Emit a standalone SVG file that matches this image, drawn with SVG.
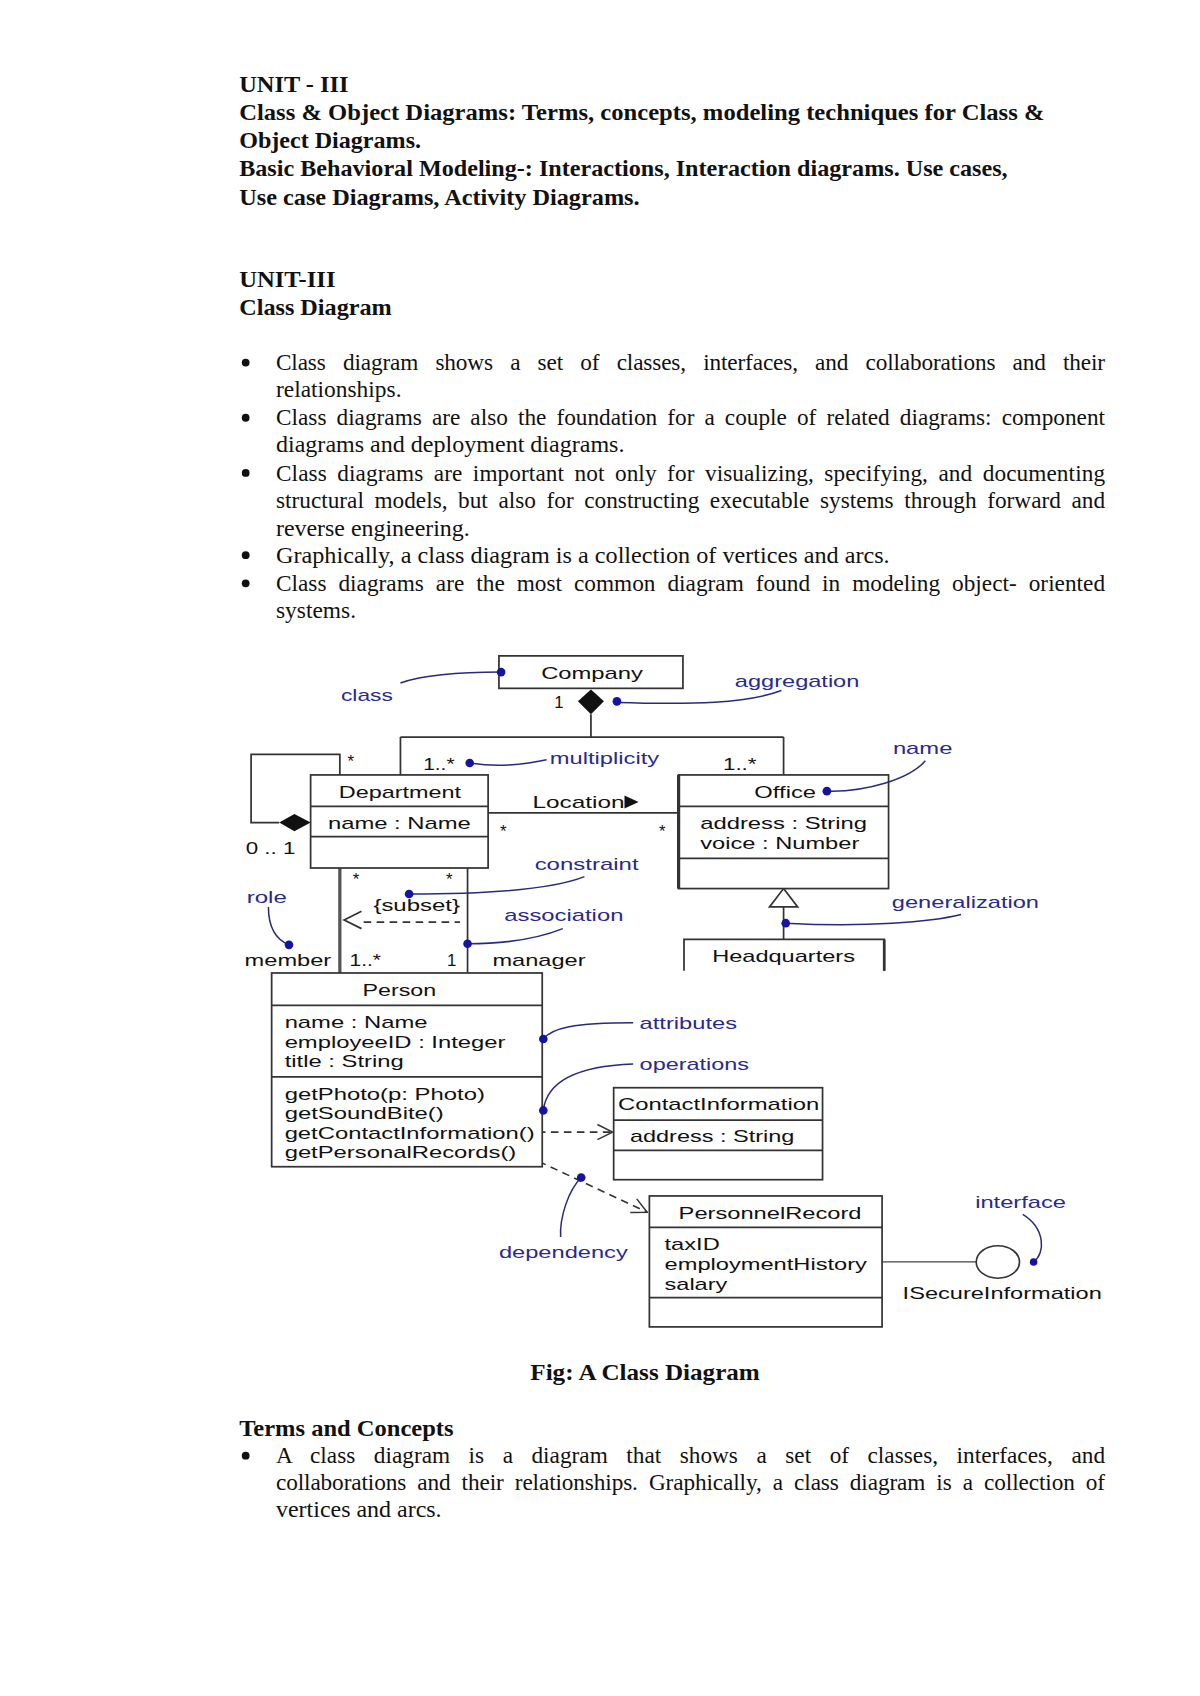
<svg xmlns="http://www.w3.org/2000/svg" width="1200" height="1696" viewBox="0 0 1200 1696">
<style>
.b{font-family:"Liberation Serif","Times New Roman",serif;font-size:21.5px;fill:#111}
.bb{font-family:"Liberation Serif","Times New Roman",serif;font-size:21.5px;font-weight:bold;fill:#111}
.d{font-family:"Liberation Sans",Arial,sans-serif;font-size:15.5px;fill:#111}
.lb{font-family:"Liberation Sans",Arial,sans-serif;font-size:15.5px;fill:#2a2a8c}
.box{fill:#fff;stroke:#333;stroke-width:1.6}
.ln{fill:none;stroke:#333;stroke-width:1.6}
.dash{fill:none;stroke:#333;stroke-width:1.5;stroke-dasharray:7,5}
.lead{fill:none;stroke:#2a2a7a;stroke-width:1.4}
.dot{fill:#1414a0}
.bul{fill:#111}
</style>
<defs>
<marker id="open" viewBox="0 0 16 16" refX="15" refY="8" markerWidth="16" markerHeight="16" markerUnits="userSpaceOnUse" orient="auto">
<path d="M1,1 L15,8 L1,15" fill="none" stroke="#333" stroke-width="1.4"/>
</marker>
</defs>
<rect width="1200" height="1696" fill="#fff"/>
<g transform="scale(1.0823)">
<g id="text">
<text class="bb" x="221" y="85" textLength="101" lengthAdjust="spacingAndGlyphs">UNIT - III</text>
<text class="bb" x="221" y="111" textLength="744" lengthAdjust="spacingAndGlyphs">Class &amp; Object Diagrams: Terms, concepts, modeling techniques for Class &amp;</text>
<text class="bb" x="221" y="137" textLength="168" lengthAdjust="spacingAndGlyphs">Object Diagrams.</text>
<text class="bb" x="221" y="163" textLength="710" lengthAdjust="spacingAndGlyphs">Basic Behavioral Modeling-: Interactions, Interaction diagrams. Use cases,</text>
<text class="bb" x="221" y="189" textLength="370" lengthAdjust="spacingAndGlyphs">Use case Diagrams, Activity Diagrams.</text>
<text class="bb" x="221" y="265" textLength="89" lengthAdjust="spacingAndGlyphs">UNIT-III</text>
<text class="bb" x="221" y="291" textLength="141" lengthAdjust="spacingAndGlyphs">Class Diagram</text>
<circle class="bul" cx="227" cy="335" r="3.6"/>
<text class="b" x="255" y="342" word-spacing="10.7" textLength="766" lengthAdjust="spacing">Class diagram shows a set of classes, interfaces, and collaborations and their</text>
<text class="b" x="255" y="367" textLength="116" lengthAdjust="spacingAndGlyphs">relationships.</text>
<circle class="bul" cx="227" cy="386" r="3.6"/>
<text class="b" x="255" y="393" word-spacing="3.9" textLength="766" lengthAdjust="spacing">Class diagrams are also the foundation for a couple of related diagrams: component</text>
<text class="b" x="255" y="418" textLength="322" lengthAdjust="spacingAndGlyphs">diagrams and deployment diagrams.</text>
<circle class="bul" cx="227" cy="437" r="3.6"/>
<text class="b" x="255" y="444" word-spacing="4.2" textLength="766" lengthAdjust="spacing">Class diagrams are important not only for visualizing, specifying, and documenting</text>
<text class="b" x="255" y="469" word-spacing="4.4" textLength="766" lengthAdjust="spacing">structural models, but also for constructing executable systems through forward and</text>
<text class="b" x="255" y="495" textLength="179" lengthAdjust="spacingAndGlyphs">reverse engineering.</text>
<circle class="bul" cx="227" cy="513" r="3.6"/>
<text class="b" x="255" y="520" textLength="567" lengthAdjust="spacingAndGlyphs">Graphically, a class diagram is a collection of vertices and arcs.</text>
<circle class="bul" cx="227" cy="539" r="3.6"/>
<text class="b" x="255" y="546" word-spacing="5.7" textLength="766" lengthAdjust="spacing">Class diagrams are the most common diagram found in modeling object- oriented</text>
<text class="b" x="255" y="571" textLength="74" lengthAdjust="spacingAndGlyphs">systems.</text>
<text class="bb" x="490" y="1275" textLength="212" lengthAdjust="spacingAndGlyphs">Fig: A Class Diagram</text>
<text class="bb" x="221" y="1327" textLength="198" lengthAdjust="spacingAndGlyphs">Terms and Concepts</text>
<circle class="bul" cx="227" cy="1345" r="3.6"/>
<text class="b" x="255" y="1352" word-spacing="11.7" textLength="766" lengthAdjust="spacing">A class diagram is a diagram that shows a set of classes, interfaces, and</text>
<text class="b" x="255" y="1377" word-spacing="5" textLength="766" lengthAdjust="spacing">collaborations and their relationships. Graphically, a class diagram is a collection of</text>
<text class="b" x="255" y="1402" textLength="153" lengthAdjust="spacingAndGlyphs">vertices and arcs.</text>
</g>

<g id="connectors">
<path class="ln" d="M546,660 V681 M370,681 H724 M370,681 V716 M724,681 V716"/>
<path d="M546,637 L558,648 L546,660 L534,648 Z" fill="#111"/>
<path class="ln" d="M314,716 V697 H232 V760 H258"/>
<path d="M258,760 L272,752 L287,760 L272,768 Z" fill="#111"/>
<path class="ln" d="M451,751 H627"/>
<path d="M577,735 L590,741 L577,747 Z" fill="#111"/>
<path d="M314,802 V899" fill="none" stroke="#555" stroke-width="3"/>
<path class="ln" d="M432,802 V899"/>
<path class="dash" d="M336,852 H425"/>
<path class="ln" d="M334,842 L318,850 L334,858"/>
<path class="ln" d="M724,838 V868"/>
<path d="M724,821 L737,838 L711,838 Z" fill="#fff" stroke="#333" stroke-width="1.6"/>
<path class="dash" d="M497,1046 H566" marker-end="url(#open)"/>
<path class="dash" d="M487,1068 L598,1120" marker-end="url(#open)"/>
<path d="M815,1166 H902" fill="none" stroke="#444" stroke-width="1.2"/>
<ellipse cx="922" cy="1166" rx="20" ry="15" fill="#fff" stroke="#333" stroke-width="1.5"/>
</g>

<g id="Company">
<rect class="box" x="461" y="606" width="170" height="30"/>
<text class="d" x="500" y="627" textLength="94" lengthAdjust="spacingAndGlyphs">Company</text>
<text class="d" x="512" y="654">1</text>
</g>

<g id="Department">
<rect class="box" x="287" y="716" width="164" height="86"/>
<path class="ln" d="M287,745 H451 M287,773 H451"/>
<text class="d" x="313" y="737" textLength="113" lengthAdjust="spacingAndGlyphs">Department</text>
<text class="d" x="303" y="766" textLength="132" lengthAdjust="spacingAndGlyphs">name : Name</text>
</g>

<g id="Office">
<rect class="box" x="627" y="716" width="194" height="105"/>
<path d="M627,716 V821" stroke="#333" stroke-width="3"/>
<path class="ln" d="M627,745 H821 M627,793 H821"/>
<text class="d" x="697" y="737" textLength="57" lengthAdjust="spacingAndGlyphs">Office</text>
<text class="d" x="647" y="766" textLength="154" lengthAdjust="spacingAndGlyphs">address : String</text>
<text class="d" x="647" y="784" textLength="147" lengthAdjust="spacingAndGlyphs">voice : Number</text>
</g>

<g id="Headquarters">
<path class="ln" d="M632,897 V868 H817 V897"/>
<path d="M817,868 V897" stroke="#333" stroke-width="2.5"/>
<text class="d" x="658" y="889" textLength="132" lengthAdjust="spacingAndGlyphs">Headquarters</text>
</g>

<g id="Person">
<rect class="box" x="251" y="899" width="250" height="179"/>
<path class="ln" d="M251,929 H501 M251,995 H501"/>
<text class="d" x="335" y="920" textLength="68" lengthAdjust="spacingAndGlyphs">Person</text>
<text class="d" x="263" y="950" textLength="132" lengthAdjust="spacingAndGlyphs">name : Name</text>
<text class="d" x="263" y="968" textLength="204" lengthAdjust="spacingAndGlyphs">employeeID : Integer</text>
<text class="d" x="263" y="986" textLength="110" lengthAdjust="spacingAndGlyphs">title : String</text>
<text class="d" x="263" y="1016" textLength="185" lengthAdjust="spacingAndGlyphs">getPhoto(p: Photo)</text>
<text class="d" x="263" y="1034" textLength="147" lengthAdjust="spacingAndGlyphs">getSoundBite()</text>
<text class="d" x="263" y="1052" textLength="231" lengthAdjust="spacingAndGlyphs">getContactInformation()</text>
<text class="d" x="263" y="1070" textLength="214" lengthAdjust="spacingAndGlyphs">getPersonalRecords()</text>
</g>

<g id="ContactInformation">
<rect class="box" x="567" y="1005" width="193" height="85"/>
<path class="ln" d="M567,1035 H760 M567,1063 H760"/>
<text class="d" x="571" y="1026" textLength="186" lengthAdjust="spacingAndGlyphs">ContactInformation</text>
<text class="d" x="582" y="1055" textLength="152" lengthAdjust="spacingAndGlyphs">address : String</text>
</g>

<g id="PersonnelRecord">
<rect class="box" x="600" y="1105" width="215" height="121"/>
<path class="ln" d="M600,1134 H815 M600,1199 H815"/>
<text class="d" x="627" y="1126" textLength="169" lengthAdjust="spacingAndGlyphs">PersonnelRecord</text>
<text class="d" x="614" y="1155" textLength="51" lengthAdjust="spacingAndGlyphs">taxID</text>
<text class="d" x="614" y="1173" textLength="187" lengthAdjust="spacingAndGlyphs">employmentHistory</text>
<text class="d" x="614" y="1192" textLength="58" lengthAdjust="spacingAndGlyphs">salary</text>
</g>

<g id="ISecureInformation">
<text class="d" x="834" y="1200" textLength="184" lengthAdjust="spacingAndGlyphs">ISecureInformation</text>
</g>

<g id="multiplicities">
<text class="d" x="391" y="711" textLength="29" lengthAdjust="spacingAndGlyphs">1..*</text>
<text class="d" x="668" y="711" textLength="31" lengthAdjust="spacingAndGlyphs">1..*</text>
<text class="d" x="321" y="709">*</text>
<text class="d" x="227" y="789" textLength="46" lengthAdjust="spacingAndGlyphs">0 .. 1</text>
<text class="d" x="462" y="773">*</text>
<text class="d" x="609" y="773">*</text>
<text class="d" x="326" y="818">*</text>
<text class="d" x="412" y="818">*</text>
<text class="d" x="345" y="842" textLength="80" lengthAdjust="spacingAndGlyphs">{subset}</text>
<text class="d" x="226" y="893" textLength="80" lengthAdjust="spacingAndGlyphs">member</text>
<text class="d" x="323" y="893" textLength="29" lengthAdjust="spacingAndGlyphs">1..*</text>
<text class="d" x="413" y="893">1</text>
<text class="d" x="455" y="893" textLength="86" lengthAdjust="spacingAndGlyphs">manager</text>
<text class="d" x="492" y="747" textLength="85" lengthAdjust="spacingAndGlyphs">Location</text>
</g>

<g id="annotations">
<path class="lead" d="M370,631 Q400,621 463,621"/>
<circle class="dot" cx="463" cy="621" r="4"/>
<text class="lb" x="315" y="648" textLength="48" lengthAdjust="spacingAndGlyphs">class</text>
<path class="lead" d="M570,649 C640,651 690,650 722,638"/>
<circle class="dot" cx="570" cy="648" r="4"/>
<text class="lb" x="679" y="635" textLength="115" lengthAdjust="spacingAndGlyphs">aggregation</text>
<path class="lead" d="M434,705 C460,709 480,707 505,702"/>
<circle class="dot" cx="434" cy="705" r="4"/>
<text class="lb" x="508" y="706" textLength="101" lengthAdjust="spacingAndGlyphs">multiplicity</text>
<path class="lead" d="M764,731 C800,732 840,720 855,703"/>
<circle class="dot" cx="764" cy="731" r="4"/>
<text class="lb" x="825" y="697" textLength="55" lengthAdjust="spacingAndGlyphs">name</text>
<path class="lead" d="M378,826 C450,826 510,822 540,810"/>
<circle class="dot" cx="378" cy="826" r="4"/>
<text class="lb" x="494" y="804" textLength="96" lengthAdjust="spacingAndGlyphs">constraint</text>
<path class="lead" d="M432,872 C470,872 500,866 520,858"/>
<circle class="dot" cx="432" cy="872" r="4"/>
<text class="lb" x="466" y="851" textLength="110" lengthAdjust="spacingAndGlyphs">association</text>
<path class="lead" d="M248,838 C248,856 255,868 267,873"/>
<circle class="dot" cx="267" cy="873" r="4"/>
<text class="lb" x="228" y="834" textLength="37" lengthAdjust="spacingAndGlyphs">role</text>
<path class="lead" d="M726,853 C800,857 860,852 888,845"/>
<circle class="dot" cx="726" cy="853" r="4"/>
<text class="lb" x="824" y="839" textLength="136" lengthAdjust="spacingAndGlyphs">generalization</text>
<path class="lead" d="M502,960 C510,950 530,945 585,945"/>
<circle class="dot" cx="502" cy="960" r="4"/>
<text class="lb" x="591" y="951" textLength="90" lengthAdjust="spacingAndGlyphs">attributes</text>
<path class="lead" d="M502,1026 C505,1000 530,985 585,983"/>
<circle class="dot" cx="502" cy="1026" r="4"/>
<text class="lb" x="591" y="989" textLength="101" lengthAdjust="spacingAndGlyphs">operations</text>
<path class="lead" d="M537,1088 C525,1100 517,1125 518,1143"/>
<circle class="dot" cx="537" cy="1088" r="4"/>
<text class="lb" x="461" y="1162" textLength="119" lengthAdjust="spacingAndGlyphs">dependency</text>
<path class="lead" d="M955,1166 C966,1158 966,1135 945,1122"/>
<circle class="dot" cx="955" cy="1166" r="3.5"/>
<text class="lb" x="901" y="1116" textLength="84" lengthAdjust="spacingAndGlyphs">interface</text>
</g>
</g>
</svg>
